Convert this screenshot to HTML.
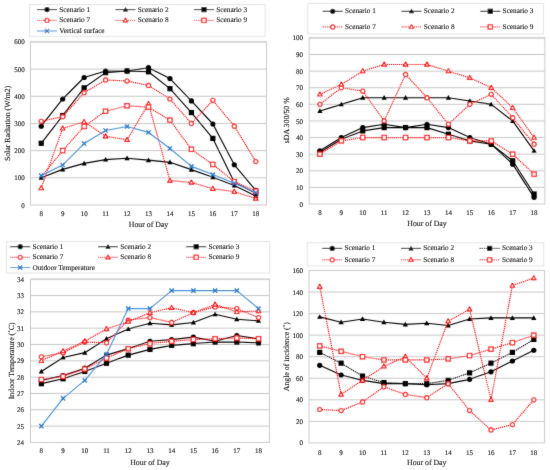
<!DOCTYPE html>
<html><head><meta charset="utf-8"><title>Charts</title>
<style>
html,body{margin:0;padding:0;background:#fff;}
body{width:550px;height:470px;overflow:hidden;}
svg{display:block;font-family:"Liberation Serif", serif;text-rendering:geometricPrecision;}
#w{width:550px;height:470px;}
</style></head>
<body>
<div id="w">
<svg width="550" height="470" viewBox="0 0 550 470">
<defs><filter id="bl" x="0" y="0" width="550" height="470" filterUnits="userSpaceOnUse"><feConvolveMatrix order="3" kernelMatrix="1 2 1 2 24 2 1 2 1" divisor="36" edgeMode="duplicate"/></filter><filter id="tf" x="0" y="0" width="550" height="470" filterUnits="userSpaceOnUse"><feConvolveMatrix order="3" kernelMatrix="0 1 0 1 16 1 0 1 0" divisor="20" edgeMode="duplicate"/></filter></defs>
<rect width="550" height="470" fill="#fff"/>
<g filter="url(#bl)">
<line x1="30.5" y1="177.82" x2="266.5" y2="177.82" stroke="#c8c8c8" stroke-width="1"/>
<line x1="30.5" y1="150.63" x2="266.5" y2="150.63" stroke="#c8c8c8" stroke-width="1"/>
<line x1="30.5" y1="123.45" x2="266.5" y2="123.45" stroke="#c8c8c8" stroke-width="1"/>
<line x1="30.5" y1="96.27" x2="266.5" y2="96.27" stroke="#c8c8c8" stroke-width="1"/>
<line x1="30.5" y1="69.08" x2="266.5" y2="69.08" stroke="#c8c8c8" stroke-width="1"/>
<line x1="30.5" y1="41.9" x2="266.5" y2="41.9" stroke="#c8c8c8" stroke-width="1"/>
<rect x="30.5" y="41.9" width="236" height="163.1" fill="none" stroke="#cbcbcb" stroke-width="1"/>
<polyline points="41.23,126.17 62.68,98.98 84.14,77.51 105.59,70.99 127.05,70.99 148.5,67.72 169.95,78.6 191.41,100.89 212.86,123.99 234.32,164.77 255.77,190.32" fill="none" stroke="#000000" stroke-width="1.15" stroke-linejoin="round"/>
<circle cx="41.23" cy="126.17" r="2.6" fill="#000000"/>
<circle cx="62.68" cy="98.98" r="2.6" fill="#000000"/>
<circle cx="84.14" cy="77.51" r="2.6" fill="#000000"/>
<circle cx="105.59" cy="70.99" r="2.6" fill="#000000"/>
<circle cx="127.05" cy="70.99" r="2.6" fill="#000000"/>
<circle cx="148.5" cy="67.72" r="2.6" fill="#000000"/>
<circle cx="169.95" cy="78.6" r="2.6" fill="#000000"/>
<circle cx="191.41" cy="100.89" r="2.6" fill="#000000"/>
<circle cx="212.86" cy="123.99" r="2.6" fill="#000000"/>
<circle cx="234.32" cy="164.77" r="2.6" fill="#000000"/>
<circle cx="255.77" cy="190.32" r="2.6" fill="#000000"/>
<polyline points="41.23,177.82 62.68,169.39 84.14,163.41 105.59,159.6 127.05,158.24 148.5,160.15 169.95,162.32 191.41,169.66 212.86,177.27 234.32,185.43 255.77,196.03" fill="none" stroke="#000000" stroke-width="1.15" stroke-linejoin="round"/>
<path d="M41.23 175.12L43.83 179.82L38.63 179.82Z" fill="#000000"/>
<path d="M62.68 166.69L65.28 171.39L60.08 171.39Z" fill="#000000"/>
<path d="M84.14 160.71L86.74 165.41L81.54 165.41Z" fill="#000000"/>
<path d="M105.59 156.9L108.19 161.6L102.99 161.6Z" fill="#000000"/>
<path d="M127.05 155.54L129.65 160.24L124.45 160.24Z" fill="#000000"/>
<path d="M148.5 157.45L151.1 162.15L145.9 162.15Z" fill="#000000"/>
<path d="M169.95 159.62L172.55 164.32L167.35 164.32Z" fill="#000000"/>
<path d="M191.41 166.96L194.01 171.66L188.81 171.66Z" fill="#000000"/>
<path d="M212.86 174.57L215.46 179.27L210.26 179.27Z" fill="#000000"/>
<path d="M234.32 182.73L236.92 187.43L231.72 187.43Z" fill="#000000"/>
<path d="M255.77 193.33L258.37 198.03L253.17 198.03Z" fill="#000000"/>
<polyline points="41.23,143.29 62.68,115.57 84.14,87.84 105.59,72.62 127.05,70.99 148.5,71.8 169.95,88.66 191.41,112.58 212.86,138.4 234.32,182.17 255.77,193.31" fill="none" stroke="#000000" stroke-width="1.15" stroke-linejoin="round"/>
<rect x="38.63" y="140.69" width="5.2" height="5.2" fill="#000000"/>
<rect x="60.08" y="112.97" width="5.2" height="5.2" fill="#000000"/>
<rect x="81.54" y="85.24" width="5.2" height="5.2" fill="#000000"/>
<rect x="102.99" y="70.02" width="5.2" height="5.2" fill="#000000"/>
<rect x="124.45" y="68.39" width="5.2" height="5.2" fill="#000000"/>
<rect x="145.9" y="69.2" width="5.2" height="5.2" fill="#000000"/>
<rect x="167.35" y="86.06" width="5.2" height="5.2" fill="#000000"/>
<rect x="188.81" y="109.98" width="5.2" height="5.2" fill="#000000"/>
<rect x="210.26" y="135.8" width="5.2" height="5.2" fill="#000000"/>
<rect x="231.72" y="179.57" width="5.2" height="5.2" fill="#000000"/>
<rect x="253.17" y="190.71" width="5.2" height="5.2" fill="#000000"/>
<polyline points="41.23,121.28 62.68,116.65 84.14,92.73 105.59,79.96 127.05,81.04 148.5,85.39 169.95,98.98 191.41,123.45 212.86,100.34 234.32,126.17 255.77,161.51" fill="none" stroke="#ff0000" stroke-width="1.15" stroke-dasharray="1.2 0.85" stroke-linejoin="round"/>
<circle cx="41.23" cy="121.28" r="2.05" fill="#fff" stroke="#ff0000" stroke-width="1.1"/>
<circle cx="62.68" cy="116.65" r="2.05" fill="#fff" stroke="#ff0000" stroke-width="1.1"/>
<circle cx="84.14" cy="92.73" r="2.05" fill="#fff" stroke="#ff0000" stroke-width="1.1"/>
<circle cx="105.59" cy="79.96" r="2.05" fill="#fff" stroke="#ff0000" stroke-width="1.1"/>
<circle cx="127.05" cy="81.04" r="2.05" fill="#fff" stroke="#ff0000" stroke-width="1.1"/>
<circle cx="148.5" cy="85.39" r="2.05" fill="#fff" stroke="#ff0000" stroke-width="1.1"/>
<circle cx="169.95" cy="98.98" r="2.05" fill="#fff" stroke="#ff0000" stroke-width="1.1"/>
<circle cx="191.41" cy="123.45" r="2.05" fill="#fff" stroke="#ff0000" stroke-width="1.1"/>
<circle cx="212.86" cy="100.34" r="2.05" fill="#fff" stroke="#ff0000" stroke-width="1.1"/>
<circle cx="234.32" cy="126.17" r="2.05" fill="#fff" stroke="#ff0000" stroke-width="1.1"/>
<circle cx="255.77" cy="161.51" r="2.05" fill="#fff" stroke="#ff0000" stroke-width="1.1"/>
<polyline points="41.23,188.15 62.68,128.34 84.14,121.82 105.59,136.23 127.05,139.76 148.5,103.88 169.95,180.53 191.41,182.44 212.86,188.69 234.32,191.68 255.77,198.48" fill="none" stroke="#ff0000" stroke-width="1.15" stroke-dasharray="1.2 0.85" stroke-linejoin="round"/>
<path d="M41.23 185.8L43.46 189.79L38.99 189.79Z" fill="#fff" stroke="#ff0000" stroke-width="1.15" stroke-linejoin="round"/>
<path d="M62.68 125.99L64.91 129.99L60.45 129.99Z" fill="#fff" stroke="#ff0000" stroke-width="1.15" stroke-linejoin="round"/>
<path d="M84.14 119.47L86.37 123.46L81.9 123.46Z" fill="#fff" stroke="#ff0000" stroke-width="1.15" stroke-linejoin="round"/>
<path d="M105.59 133.88L107.82 137.87L103.36 137.87Z" fill="#fff" stroke="#ff0000" stroke-width="1.15" stroke-linejoin="round"/>
<path d="M127.05 137.41L129.28 141.41L124.81 141.41Z" fill="#fff" stroke="#ff0000" stroke-width="1.15" stroke-linejoin="round"/>
<path d="M148.5 101.53L150.73 105.52L146.27 105.52Z" fill="#fff" stroke="#ff0000" stroke-width="1.15" stroke-linejoin="round"/>
<path d="M169.95 178.19L172.19 182.18L167.72 182.18Z" fill="#fff" stroke="#ff0000" stroke-width="1.15" stroke-linejoin="round"/>
<path d="M191.41 180.09L193.64 184.08L189.18 184.08Z" fill="#fff" stroke="#ff0000" stroke-width="1.15" stroke-linejoin="round"/>
<path d="M212.86 186.34L215.1 190.34L210.63 190.34Z" fill="#fff" stroke="#ff0000" stroke-width="1.15" stroke-linejoin="round"/>
<path d="M234.32 189.33L236.55 193.33L232.09 193.33Z" fill="#fff" stroke="#ff0000" stroke-width="1.15" stroke-linejoin="round"/>
<path d="M255.77 196.13L258.01 200.12L253.54 200.12Z" fill="#fff" stroke="#ff0000" stroke-width="1.15" stroke-linejoin="round"/>
<polyline points="41.23,176.73 62.68,150.63 84.14,126.44 105.59,111.22 127.05,105.78 148.5,107.14 169.95,120.19 191.41,149.27 212.86,164.5 234.32,181.62 255.77,191.14" fill="none" stroke="#ff0000" stroke-width="1.15" stroke-dasharray="1.2 0.85" stroke-linejoin="round"/>
<rect x="60.53" y="148.48" width="4.3" height="4.3" fill="#fff" stroke="#ff0000" stroke-width="1.15"/>
<rect x="81.99" y="124.29" width="4.3" height="4.3" fill="#fff" stroke="#ff0000" stroke-width="1.15"/>
<rect x="103.44" y="109.07" width="4.3" height="4.3" fill="#fff" stroke="#ff0000" stroke-width="1.15"/>
<rect x="124.9" y="103.63" width="4.3" height="4.3" fill="#fff" stroke="#ff0000" stroke-width="1.15"/>
<rect x="146.35" y="104.99" width="4.3" height="4.3" fill="#fff" stroke="#ff0000" stroke-width="1.15"/>
<rect x="167.8" y="118.04" width="4.3" height="4.3" fill="#fff" stroke="#ff0000" stroke-width="1.15"/>
<rect x="189.26" y="147.12" width="4.3" height="4.3" fill="#fff" stroke="#ff0000" stroke-width="1.15"/>
<rect x="210.71" y="162.35" width="4.3" height="4.3" fill="#fff" stroke="#ff0000" stroke-width="1.15"/>
<rect x="232.17" y="179.47" width="4.3" height="4.3" fill="#fff" stroke="#ff0000" stroke-width="1.15"/>
<rect x="253.62" y="188.99" width="4.3" height="4.3" fill="#fff" stroke="#ff0000" stroke-width="1.15"/>
<polyline points="41.23,175.64 62.68,165.04 84.14,143.57 105.59,130.52 127.05,126.44 148.5,132.42 169.95,148.46 191.41,166.4 212.86,174.55 234.32,183.25 255.77,192.5" fill="none" stroke="#4a92da" stroke-width="1.15" stroke-linejoin="round"/>
<path d="M39.13 173.54L43.33 177.74M39.13 177.74L43.33 173.54" stroke="#2a78cc" stroke-width="1.25" fill="none"/>
<path d="M60.58 162.94L64.78 167.14M60.58 167.14L64.78 162.94" stroke="#2a78cc" stroke-width="1.25" fill="none"/>
<path d="M82.04 141.47L86.24 145.67M82.04 145.67L86.24 141.47" stroke="#2a78cc" stroke-width="1.25" fill="none"/>
<path d="M103.49 128.42L107.69 132.62M103.49 132.62L107.69 128.42" stroke="#2a78cc" stroke-width="1.25" fill="none"/>
<path d="M124.95 124.34L129.15 128.54M124.95 128.54L129.15 124.34" stroke="#2a78cc" stroke-width="1.25" fill="none"/>
<path d="M146.4 130.32L150.6 134.52M146.4 134.52L150.6 130.32" stroke="#2a78cc" stroke-width="1.25" fill="none"/>
<path d="M167.85 146.36L172.05 150.56M167.85 150.56L172.05 146.36" stroke="#2a78cc" stroke-width="1.25" fill="none"/>
<path d="M189.31 164.3L193.51 168.5M189.31 168.5L193.51 164.3" stroke="#2a78cc" stroke-width="1.25" fill="none"/>
<path d="M210.76 172.45L214.96 176.65M210.76 176.65L214.96 172.45" stroke="#2a78cc" stroke-width="1.25" fill="none"/>
<path d="M232.22 181.15L236.42 185.35M232.22 185.35L236.42 181.15" stroke="#2a78cc" stroke-width="1.25" fill="none"/>
<path d="M253.67 190.4L257.87 194.6M253.67 194.6L257.87 190.4" stroke="#2a78cc" stroke-width="1.25" fill="none"/>
<rect x="29.4" y="4.5" width="235.7" height="31.8" fill="#fff" stroke="#e4e4e4" stroke-width="1"/>
<line x1="37" y1="9.6" x2="57" y2="9.6" stroke="#000000" stroke-width="0.98"/>
<circle cx="47" cy="9.6" r="2.6" fill="#000000"/>
<line x1="115.5" y1="9.6" x2="135.5" y2="9.6" stroke="#000000" stroke-width="0.98"/>
<path d="M125.5 6.9L128.1 11.6L122.9 11.6Z" fill="#000000"/>
<line x1="194" y1="9.6" x2="214" y2="9.6" stroke="#000000" stroke-width="0.98"/>
<rect x="201.4" y="7" width="5.2" height="5.2" fill="#000000"/>
<line x1="37" y1="20.4" x2="57" y2="20.4" stroke="#ff0000" stroke-width="0.98" stroke-dasharray="1.2 0.85"/>
<circle cx="47" cy="20.4" r="2.05" fill="#fff" stroke="#ff0000" stroke-width="1.1"/>
<line x1="115.5" y1="20.4" x2="135.5" y2="20.4" stroke="#ff0000" stroke-width="0.98" stroke-dasharray="1.2 0.85"/>
<path d="M125.5 18.05L127.73 22.04L123.27 22.04Z" fill="#fff" stroke="#ff0000" stroke-width="1.15" stroke-linejoin="round"/>
<line x1="194" y1="20.4" x2="214" y2="20.4" stroke="#ff0000" stroke-width="0.98" stroke-dasharray="1.2 0.85"/>
<rect x="201.85" y="18.25" width="4.3" height="4.3" fill="#fff" stroke="#ff0000" stroke-width="1.15"/>
<line x1="37" y1="31" x2="57" y2="31" stroke="#4a92da" stroke-width="0.98"/>
<path d="M44.9 28.9L49.1 33.1M44.9 33.1L49.1 28.9" stroke="#2a78cc" stroke-width="1.25" fill="none"/>
<line x1="309.2" y1="187.39" x2="544.8" y2="187.39" stroke="#c8c8c8" stroke-width="1"/>
<line x1="309.2" y1="170.78" x2="544.8" y2="170.78" stroke="#c8c8c8" stroke-width="1"/>
<line x1="309.2" y1="154.17" x2="544.8" y2="154.17" stroke="#c8c8c8" stroke-width="1"/>
<line x1="309.2" y1="137.56" x2="544.8" y2="137.56" stroke="#c8c8c8" stroke-width="1"/>
<line x1="309.2" y1="120.95" x2="544.8" y2="120.95" stroke="#c8c8c8" stroke-width="1"/>
<line x1="309.2" y1="104.34" x2="544.8" y2="104.34" stroke="#c8c8c8" stroke-width="1"/>
<line x1="309.2" y1="87.73" x2="544.8" y2="87.73" stroke="#c8c8c8" stroke-width="1"/>
<line x1="309.2" y1="71.12" x2="544.8" y2="71.12" stroke="#c8c8c8" stroke-width="1"/>
<line x1="309.2" y1="54.51" x2="544.8" y2="54.51" stroke="#c8c8c8" stroke-width="1"/>
<line x1="309.2" y1="37.9" x2="544.8" y2="37.9" stroke="#c8c8c8" stroke-width="1"/>
<rect x="309.2" y="37.9" width="235.6" height="166.1" fill="none" stroke="#cbcbcb" stroke-width="1"/>
<polyline points="319.91,150.85 341.33,137.56 362.75,127.59 384.16,124.27 405.58,127.59 427,124.27 448.42,127.59 469.84,137.56 491.25,144.2 512.67,164.14 534.09,197.36" fill="none" stroke="#000000" stroke-width="1.15" stroke-linejoin="round"/>
<circle cx="319.91" cy="150.85" r="2.6" fill="#000000"/>
<circle cx="341.33" cy="137.56" r="2.6" fill="#000000"/>
<circle cx="362.75" cy="127.59" r="2.6" fill="#000000"/>
<circle cx="384.16" cy="124.27" r="2.6" fill="#000000"/>
<circle cx="405.58" cy="127.59" r="2.6" fill="#000000"/>
<circle cx="427" cy="124.27" r="2.6" fill="#000000"/>
<circle cx="448.42" cy="127.59" r="2.6" fill="#000000"/>
<circle cx="469.84" cy="137.56" r="2.6" fill="#000000"/>
<circle cx="491.25" cy="144.2" r="2.6" fill="#000000"/>
<circle cx="512.67" cy="164.14" r="2.6" fill="#000000"/>
<circle cx="534.09" cy="197.36" r="2.6" fill="#000000"/>
<polyline points="319.91,110.98 341.33,104.34 362.75,97.7 384.16,97.7 405.58,97.7 427,97.7 448.42,97.7 469.84,101.02 491.25,104.34 512.67,120.95 534.09,150.85" fill="none" stroke="#000000" stroke-width="1.15" stroke-linejoin="round"/>
<path d="M319.91 108.28L322.51 112.98L317.31 112.98Z" fill="#000000"/>
<path d="M341.33 101.64L343.93 106.34L338.73 106.34Z" fill="#000000"/>
<path d="M362.75 95L365.35 99.7L360.15 99.7Z" fill="#000000"/>
<path d="M384.16 95L386.76 99.7L381.56 99.7Z" fill="#000000"/>
<path d="M405.58 95L408.18 99.7L402.98 99.7Z" fill="#000000"/>
<path d="M427 95L429.6 99.7L424.4 99.7Z" fill="#000000"/>
<path d="M448.42 95L451.02 99.7L445.82 99.7Z" fill="#000000"/>
<path d="M469.84 98.32L472.44 103.02L467.24 103.02Z" fill="#000000"/>
<path d="M491.25 101.64L493.85 106.34L488.65 106.34Z" fill="#000000"/>
<path d="M512.67 118.25L515.27 122.95L510.07 122.95Z" fill="#000000"/>
<path d="M534.09 148.15L536.69 152.85L531.49 152.85Z" fill="#000000"/>
<polyline points="319.91,152.51 341.33,139.22 362.75,130.92 384.16,127.59 405.58,127.59 427,127.59 448.42,134.24 469.84,140.88 491.25,144.2 512.67,160.81 534.09,194.03" fill="none" stroke="#000000" stroke-width="1.15" stroke-linejoin="round"/>
<rect x="317.31" y="149.91" width="5.2" height="5.2" fill="#000000"/>
<rect x="338.73" y="136.62" width="5.2" height="5.2" fill="#000000"/>
<rect x="360.15" y="128.32" width="5.2" height="5.2" fill="#000000"/>
<rect x="381.56" y="124.99" width="5.2" height="5.2" fill="#000000"/>
<rect x="402.98" y="124.99" width="5.2" height="5.2" fill="#000000"/>
<rect x="424.4" y="124.99" width="5.2" height="5.2" fill="#000000"/>
<rect x="445.82" y="131.64" width="5.2" height="5.2" fill="#000000"/>
<rect x="467.24" y="138.28" width="5.2" height="5.2" fill="#000000"/>
<rect x="488.65" y="141.6" width="5.2" height="5.2" fill="#000000"/>
<rect x="510.07" y="158.21" width="5.2" height="5.2" fill="#000000"/>
<rect x="531.49" y="191.43" width="5.2" height="5.2" fill="#000000"/>
<polyline points="319.91,104.34 341.33,87.73 362.75,91.05 384.16,120.95 405.58,74.44 427,97.7 448.42,124.27 469.84,104.34 491.25,94.37 512.67,117.63 534.09,144.2" fill="none" stroke="#ff0000" stroke-width="1.15" stroke-dasharray="1.2 0.85" stroke-linejoin="round"/>
<circle cx="319.91" cy="104.34" r="2.05" fill="#fff" stroke="#ff0000" stroke-width="1.1"/>
<circle cx="341.33" cy="87.73" r="2.05" fill="#fff" stroke="#ff0000" stroke-width="1.1"/>
<circle cx="362.75" cy="91.05" r="2.05" fill="#fff" stroke="#ff0000" stroke-width="1.1"/>
<circle cx="384.16" cy="120.95" r="2.05" fill="#fff" stroke="#ff0000" stroke-width="1.1"/>
<circle cx="405.58" cy="74.44" r="2.05" fill="#fff" stroke="#ff0000" stroke-width="1.1"/>
<circle cx="427" cy="97.7" r="2.05" fill="#fff" stroke="#ff0000" stroke-width="1.1"/>
<circle cx="448.42" cy="124.27" r="2.05" fill="#fff" stroke="#ff0000" stroke-width="1.1"/>
<circle cx="469.84" cy="104.34" r="2.05" fill="#fff" stroke="#ff0000" stroke-width="1.1"/>
<circle cx="491.25" cy="94.37" r="2.05" fill="#fff" stroke="#ff0000" stroke-width="1.1"/>
<circle cx="512.67" cy="117.63" r="2.05" fill="#fff" stroke="#ff0000" stroke-width="1.1"/>
<circle cx="534.09" cy="144.2" r="2.05" fill="#fff" stroke="#ff0000" stroke-width="1.1"/>
<polyline points="319.91,94.37 341.33,84.41 362.75,71.12 384.16,64.48 405.58,64.48 427,64.48 448.42,71.12 469.84,77.76 491.25,87.73 512.67,107.66 534.09,137.56" fill="none" stroke="#ff0000" stroke-width="1.15" stroke-dasharray="1.2 0.85" stroke-linejoin="round"/>
<path d="M319.91 92.02L322.14 96.02L317.68 96.02Z" fill="#fff" stroke="#ff0000" stroke-width="1.15" stroke-linejoin="round"/>
<path d="M341.33 82.06L343.56 86.05L339.09 86.05Z" fill="#fff" stroke="#ff0000" stroke-width="1.15" stroke-linejoin="round"/>
<path d="M362.75 68.77L364.98 72.77L360.51 72.77Z" fill="#fff" stroke="#ff0000" stroke-width="1.15" stroke-linejoin="round"/>
<path d="M384.16 62.13L386.4 66.12L381.93 66.12Z" fill="#fff" stroke="#ff0000" stroke-width="1.15" stroke-linejoin="round"/>
<path d="M405.58 62.13L407.81 66.12L403.35 66.12Z" fill="#fff" stroke="#ff0000" stroke-width="1.15" stroke-linejoin="round"/>
<path d="M427 62.13L429.23 66.12L424.77 66.12Z" fill="#fff" stroke="#ff0000" stroke-width="1.15" stroke-linejoin="round"/>
<path d="M448.42 68.77L450.65 72.77L446.19 72.77Z" fill="#fff" stroke="#ff0000" stroke-width="1.15" stroke-linejoin="round"/>
<path d="M469.84 75.41L472.07 79.41L467.6 79.41Z" fill="#fff" stroke="#ff0000" stroke-width="1.15" stroke-linejoin="round"/>
<path d="M491.25 85.38L493.49 89.38L489.02 89.38Z" fill="#fff" stroke="#ff0000" stroke-width="1.15" stroke-linejoin="round"/>
<path d="M512.67 105.31L514.91 109.31L510.44 109.31Z" fill="#fff" stroke="#ff0000" stroke-width="1.15" stroke-linejoin="round"/>
<path d="M534.09 135.21L536.32 139.21L531.86 139.21Z" fill="#fff" stroke="#ff0000" stroke-width="1.15" stroke-linejoin="round"/>
<polyline points="319.91,154.17 341.33,140.88 362.75,137.56 384.16,137.56 405.58,137.56 427,137.56 448.42,137.56 469.84,140.88 491.25,140.88 512.67,154.17 534.09,174.1" fill="none" stroke="#ff0000" stroke-width="1.15" stroke-dasharray="1.2 0.85" stroke-linejoin="round"/>
<rect x="317.76" y="152.02" width="4.3" height="4.3" fill="#fff" stroke="#ff0000" stroke-width="1.15"/>
<rect x="339.18" y="138.73" width="4.3" height="4.3" fill="#fff" stroke="#ff0000" stroke-width="1.15"/>
<rect x="360.6" y="135.41" width="4.3" height="4.3" fill="#fff" stroke="#ff0000" stroke-width="1.15"/>
<rect x="382.01" y="135.41" width="4.3" height="4.3" fill="#fff" stroke="#ff0000" stroke-width="1.15"/>
<rect x="403.43" y="135.41" width="4.3" height="4.3" fill="#fff" stroke="#ff0000" stroke-width="1.15"/>
<rect x="424.85" y="135.41" width="4.3" height="4.3" fill="#fff" stroke="#ff0000" stroke-width="1.15"/>
<rect x="446.27" y="135.41" width="4.3" height="4.3" fill="#fff" stroke="#ff0000" stroke-width="1.15"/>
<rect x="467.69" y="138.73" width="4.3" height="4.3" fill="#fff" stroke="#ff0000" stroke-width="1.15"/>
<rect x="489.1" y="138.73" width="4.3" height="4.3" fill="#fff" stroke="#ff0000" stroke-width="1.15"/>
<rect x="510.52" y="152.02" width="4.3" height="4.3" fill="#fff" stroke="#ff0000" stroke-width="1.15"/>
<rect x="531.94" y="171.95" width="4.3" height="4.3" fill="#fff" stroke="#ff0000" stroke-width="1.15"/>
<rect x="307.8" y="3.6" width="235.6" height="30.4" fill="#fff" stroke="#e4e4e4" stroke-width="1"/>
<line x1="322.7" y1="11.3" x2="342.7" y2="11.3" stroke="#000000" stroke-width="0.98"/>
<circle cx="332.7" cy="11.3" r="2.6" fill="#000000"/>
<line x1="401.5" y1="11.3" x2="421.5" y2="11.3" stroke="#000000" stroke-width="0.98"/>
<path d="M411.5 8.6L414.1 13.3L408.9 13.3Z" fill="#000000"/>
<line x1="480.3" y1="11.3" x2="500.3" y2="11.3" stroke="#000000" stroke-width="0.98"/>
<rect x="487.7" y="8.7" width="5.2" height="5.2" fill="#000000"/>
<line x1="322.7" y1="26.9" x2="342.7" y2="26.9" stroke="#ff0000" stroke-width="0.98" stroke-dasharray="1.2 0.85"/>
<circle cx="332.7" cy="26.9" r="2.05" fill="#fff" stroke="#ff0000" stroke-width="1.1"/>
<line x1="401.5" y1="26.9" x2="421.5" y2="26.9" stroke="#ff0000" stroke-width="0.98" stroke-dasharray="1.2 0.85"/>
<path d="M411.5 24.55L413.73 28.54L409.27 28.54Z" fill="#fff" stroke="#ff0000" stroke-width="1.15" stroke-linejoin="round"/>
<line x1="480.3" y1="26.9" x2="500.3" y2="26.9" stroke="#ff0000" stroke-width="0.98" stroke-dasharray="1.2 0.85"/>
<rect x="488.15" y="24.75" width="4.3" height="4.3" fill="#fff" stroke="#ff0000" stroke-width="1.15"/>
<line x1="30.5" y1="426.12" x2="269.4" y2="426.12" stroke="#c8c8c8" stroke-width="1"/>
<line x1="30.5" y1="409.8" x2="269.4" y2="409.8" stroke="#c8c8c8" stroke-width="1"/>
<line x1="30.5" y1="393.47" x2="269.4" y2="393.47" stroke="#c8c8c8" stroke-width="1"/>
<line x1="30.5" y1="377.15" x2="269.4" y2="377.15" stroke="#c8c8c8" stroke-width="1"/>
<line x1="30.5" y1="360.82" x2="269.4" y2="360.82" stroke="#c8c8c8" stroke-width="1"/>
<line x1="30.5" y1="344.5" x2="269.4" y2="344.5" stroke="#c8c8c8" stroke-width="1"/>
<line x1="30.5" y1="328.18" x2="269.4" y2="328.18" stroke="#c8c8c8" stroke-width="1"/>
<line x1="30.5" y1="311.85" x2="269.4" y2="311.85" stroke="#c8c8c8" stroke-width="1"/>
<line x1="30.5" y1="295.52" x2="269.4" y2="295.52" stroke="#c8c8c8" stroke-width="1"/>
<line x1="30.5" y1="279.2" x2="269.4" y2="279.2" stroke="#c8c8c8" stroke-width="1"/>
<rect x="30.5" y="279.2" width="238.9" height="163.25" fill="none" stroke="#cbcbcb" stroke-width="1"/>
<polyline points="41.36,380.41 63.08,375.52 84.8,368.17 106.51,355.11 128.23,348.58 149.95,341.24 171.67,339.6 193.39,337.15 215.1,341.24 236.82,335.52 258.54,338.79" fill="none" stroke="#000000" stroke-width="1.15" stroke-linejoin="round"/>
<circle cx="41.36" cy="380.41" r="2.6" fill="#000000"/>
<circle cx="63.08" cy="375.52" r="2.6" fill="#000000"/>
<circle cx="84.8" cy="368.17" r="2.6" fill="#000000"/>
<circle cx="106.51" cy="355.11" r="2.6" fill="#000000"/>
<circle cx="128.23" cy="348.58" r="2.6" fill="#000000"/>
<circle cx="149.95" cy="341.24" r="2.6" fill="#000000"/>
<circle cx="171.67" cy="339.6" r="2.6" fill="#000000"/>
<circle cx="193.39" cy="337.15" r="2.6" fill="#000000"/>
<circle cx="215.1" cy="341.24" r="2.6" fill="#000000"/>
<circle cx="236.82" cy="335.52" r="2.6" fill="#000000"/>
<circle cx="258.54" cy="338.79" r="2.6" fill="#000000"/>
<polyline points="41.36,371.44 63.08,357.56 84.8,352.66 106.51,338.79 128.23,328.99 149.95,323.28 171.67,324.91 193.39,322.46 215.1,314.3 236.82,319.2 258.54,320.83" fill="none" stroke="#000000" stroke-width="1.15" stroke-linejoin="round"/>
<path d="M41.36 368.74L43.96 373.44L38.76 373.44Z" fill="#000000"/>
<path d="M63.08 354.86L65.68 359.56L60.48 359.56Z" fill="#000000"/>
<path d="M84.8 349.96L87.4 354.66L82.2 354.66Z" fill="#000000"/>
<path d="M106.51 336.09L109.11 340.79L103.91 340.79Z" fill="#000000"/>
<path d="M128.23 326.29L130.83 330.99L125.63 330.99Z" fill="#000000"/>
<path d="M149.95 320.58L152.55 325.28L147.35 325.28Z" fill="#000000"/>
<path d="M171.67 322.21L174.27 326.91L169.07 326.91Z" fill="#000000"/>
<path d="M193.39 319.76L195.99 324.46L190.79 324.46Z" fill="#000000"/>
<path d="M215.1 311.6L217.7 316.3L212.5 316.3Z" fill="#000000"/>
<path d="M236.82 316.5L239.42 321.2L234.22 321.2Z" fill="#000000"/>
<path d="M258.54 318.13L261.14 322.83L255.94 322.83Z" fill="#000000"/>
<polyline points="41.36,383.68 63.08,378.78 84.8,371.44 106.51,363.27 128.23,355.11 149.95,349.4 171.67,345.32 193.39,343.68 215.1,342.05 236.82,342.05 258.54,342.87" fill="none" stroke="#000000" stroke-width="1.15" stroke-linejoin="round"/>
<rect x="38.76" y="381.08" width="5.2" height="5.2" fill="#000000"/>
<rect x="60.48" y="376.18" width="5.2" height="5.2" fill="#000000"/>
<rect x="82.2" y="368.84" width="5.2" height="5.2" fill="#000000"/>
<rect x="103.91" y="360.67" width="5.2" height="5.2" fill="#000000"/>
<rect x="125.63" y="352.51" width="5.2" height="5.2" fill="#000000"/>
<rect x="147.35" y="346.8" width="5.2" height="5.2" fill="#000000"/>
<rect x="169.07" y="342.72" width="5.2" height="5.2" fill="#000000"/>
<rect x="190.79" y="341.08" width="5.2" height="5.2" fill="#000000"/>
<rect x="212.5" y="339.45" width="5.2" height="5.2" fill="#000000"/>
<rect x="234.22" y="339.45" width="5.2" height="5.2" fill="#000000"/>
<rect x="255.94" y="340.27" width="5.2" height="5.2" fill="#000000"/>
<polyline points="41.36,356.74 63.08,352.66 84.8,342.05 106.51,342.87 128.23,320.01 149.95,317.56 171.67,322.46 193.39,312.67 215.1,306.95 236.82,308.58 258.54,317.56" fill="none" stroke="#ff0000" stroke-width="1.15" stroke-dasharray="1.2 0.85" stroke-linejoin="round"/>
<circle cx="41.36" cy="356.74" r="2.05" fill="#fff" stroke="#ff0000" stroke-width="1.1"/>
<circle cx="63.08" cy="352.66" r="2.05" fill="#fff" stroke="#ff0000" stroke-width="1.1"/>
<circle cx="84.8" cy="342.05" r="2.05" fill="#fff" stroke="#ff0000" stroke-width="1.1"/>
<circle cx="106.51" cy="342.87" r="2.05" fill="#fff" stroke="#ff0000" stroke-width="1.1"/>
<circle cx="128.23" cy="320.01" r="2.05" fill="#fff" stroke="#ff0000" stroke-width="1.1"/>
<circle cx="149.95" cy="317.56" r="2.05" fill="#fff" stroke="#ff0000" stroke-width="1.1"/>
<circle cx="171.67" cy="322.46" r="2.05" fill="#fff" stroke="#ff0000" stroke-width="1.1"/>
<circle cx="193.39" cy="312.67" r="2.05" fill="#fff" stroke="#ff0000" stroke-width="1.1"/>
<circle cx="215.1" cy="306.95" r="2.05" fill="#fff" stroke="#ff0000" stroke-width="1.1"/>
<circle cx="236.82" cy="308.58" r="2.05" fill="#fff" stroke="#ff0000" stroke-width="1.1"/>
<circle cx="258.54" cy="317.56" r="2.05" fill="#fff" stroke="#ff0000" stroke-width="1.1"/>
<polyline points="41.36,360.82 63.08,351.03 84.8,341.24 106.51,328.99 128.23,321.64 149.95,312.67 171.67,307.77 193.39,312.67 215.1,304.5 236.82,311.85 258.54,311.03" fill="none" stroke="#ff0000" stroke-width="1.15" stroke-dasharray="1.2 0.85" stroke-linejoin="round"/>
<path d="M41.36 358.47L43.59 362.47L39.13 362.47Z" fill="#fff" stroke="#ff0000" stroke-width="1.15" stroke-linejoin="round"/>
<path d="M63.08 348.68L65.31 352.67L60.84 352.67Z" fill="#fff" stroke="#ff0000" stroke-width="1.15" stroke-linejoin="round"/>
<path d="M84.8 338.88L87.03 342.88L82.56 342.88Z" fill="#fff" stroke="#ff0000" stroke-width="1.15" stroke-linejoin="round"/>
<path d="M106.51 326.64L108.75 330.64L104.28 330.64Z" fill="#fff" stroke="#ff0000" stroke-width="1.15" stroke-linejoin="round"/>
<path d="M128.23 319.29L130.46 323.29L126 323.29Z" fill="#fff" stroke="#ff0000" stroke-width="1.15" stroke-linejoin="round"/>
<path d="M149.95 310.32L152.18 314.31L147.72 314.31Z" fill="#fff" stroke="#ff0000" stroke-width="1.15" stroke-linejoin="round"/>
<path d="M171.67 305.42L173.9 309.41L169.44 309.41Z" fill="#fff" stroke="#ff0000" stroke-width="1.15" stroke-linejoin="round"/>
<path d="M193.39 310.32L195.62 314.31L191.15 314.31Z" fill="#fff" stroke="#ff0000" stroke-width="1.15" stroke-linejoin="round"/>
<path d="M215.1 302.15L217.34 306.15L212.87 306.15Z" fill="#fff" stroke="#ff0000" stroke-width="1.15" stroke-linejoin="round"/>
<path d="M236.82 309.5L239.06 313.5L234.59 313.5Z" fill="#fff" stroke="#ff0000" stroke-width="1.15" stroke-linejoin="round"/>
<path d="M258.54 308.68L260.77 312.68L256.31 312.68Z" fill="#fff" stroke="#ff0000" stroke-width="1.15" stroke-linejoin="round"/>
<polyline points="41.36,379.6 63.08,376.33 84.8,368.99 106.51,358.05 128.23,348.74 149.95,343.68 171.67,341.24 193.39,339.6 215.1,338.79 236.82,337.97 258.54,338.79" fill="none" stroke="#ff0000" stroke-width="1.15" stroke-dasharray="1.2 0.85" stroke-linejoin="round"/>
<rect x="39.21" y="377.45" width="4.3" height="4.3" fill="#fff" stroke="#ff0000" stroke-width="1.15"/>
<rect x="60.93" y="374.18" width="4.3" height="4.3" fill="#fff" stroke="#ff0000" stroke-width="1.15"/>
<rect x="82.65" y="366.84" width="4.3" height="4.3" fill="#fff" stroke="#ff0000" stroke-width="1.15"/>
<rect x="104.36" y="355.9" width="4.3" height="4.3" fill="#fff" stroke="#ff0000" stroke-width="1.15"/>
<rect x="126.08" y="346.59" width="4.3" height="4.3" fill="#fff" stroke="#ff0000" stroke-width="1.15"/>
<rect x="147.8" y="341.53" width="4.3" height="4.3" fill="#fff" stroke="#ff0000" stroke-width="1.15"/>
<rect x="169.52" y="339.09" width="4.3" height="4.3" fill="#fff" stroke="#ff0000" stroke-width="1.15"/>
<rect x="191.24" y="337.45" width="4.3" height="4.3" fill="#fff" stroke="#ff0000" stroke-width="1.15"/>
<rect x="212.95" y="336.64" width="4.3" height="4.3" fill="#fff" stroke="#ff0000" stroke-width="1.15"/>
<rect x="234.67" y="335.82" width="4.3" height="4.3" fill="#fff" stroke="#ff0000" stroke-width="1.15"/>
<rect x="256.39" y="336.64" width="4.3" height="4.3" fill="#fff" stroke="#ff0000" stroke-width="1.15"/>
<polyline points="41.36,426.12 63.08,398.37 84.8,380.41 106.51,354.3 128.23,308.58 149.95,308.58 171.67,290.63 193.39,290.63 215.1,290.63 236.82,290.63 258.54,308.58" fill="none" stroke="#4a92da" stroke-width="1.15" stroke-linejoin="round"/>
<path d="M39.26 424.02L43.46 428.23M39.26 428.23L43.46 424.02" stroke="#2a78cc" stroke-width="1.25" fill="none"/>
<path d="M60.98 396.27L65.18 400.47M60.98 400.47L65.18 396.27" stroke="#2a78cc" stroke-width="1.25" fill="none"/>
<path d="M82.7 378.31L86.9 382.51M82.7 382.51L86.9 378.31" stroke="#2a78cc" stroke-width="1.25" fill="none"/>
<path d="M104.41 352.19L108.61 356.4M104.41 356.4L108.61 352.19" stroke="#2a78cc" stroke-width="1.25" fill="none"/>
<path d="M126.13 306.48L130.33 310.68M126.13 310.68L130.33 306.48" stroke="#2a78cc" stroke-width="1.25" fill="none"/>
<path d="M147.85 306.48L152.05 310.68M147.85 310.68L152.05 306.48" stroke="#2a78cc" stroke-width="1.25" fill="none"/>
<path d="M169.57 288.53L173.77 292.73M169.57 292.73L173.77 288.53" stroke="#2a78cc" stroke-width="1.25" fill="none"/>
<path d="M191.29 288.53L195.49 292.73M191.29 292.73L195.49 288.53" stroke="#2a78cc" stroke-width="1.25" fill="none"/>
<path d="M213 288.53L217.2 292.73M213 292.73L217.2 288.53" stroke="#2a78cc" stroke-width="1.25" fill="none"/>
<path d="M234.72 288.53L238.92 292.73M234.72 292.73L238.92 288.53" stroke="#2a78cc" stroke-width="1.25" fill="none"/>
<path d="M256.44 306.48L260.64 310.68M256.44 310.68L260.64 306.48" stroke="#2a78cc" stroke-width="1.25" fill="none"/>
<rect x="6.4" y="241.4" width="263.3" height="31.6" fill="#fff" stroke="#e4e4e4" stroke-width="1"/>
<line x1="10.2" y1="246.7" x2="30.2" y2="246.7" stroke="#000000" stroke-width="0.98"/>
<circle cx="20.2" cy="246.7" r="2.6" fill="#000000"/>
<line x1="98" y1="246.7" x2="118" y2="246.7" stroke="#000000" stroke-width="0.98"/>
<path d="M108 244L110.6 248.7L105.4 248.7Z" fill="#000000"/>
<line x1="186.2" y1="246.7" x2="206.2" y2="246.7" stroke="#000000" stroke-width="0.98"/>
<rect x="193.6" y="244.1" width="5.2" height="5.2" fill="#000000"/>
<line x1="10.2" y1="257.3" x2="30.2" y2="257.3" stroke="#ff0000" stroke-width="0.98" stroke-dasharray="1.2 0.85"/>
<circle cx="20.2" cy="257.3" r="2.05" fill="#fff" stroke="#ff0000" stroke-width="1.1"/>
<line x1="98" y1="257.3" x2="118" y2="257.3" stroke="#ff0000" stroke-width="0.98" stroke-dasharray="1.2 0.85"/>
<path d="M108 254.95L110.23 258.94L105.77 258.94Z" fill="#fff" stroke="#ff0000" stroke-width="1.15" stroke-linejoin="round"/>
<line x1="186.2" y1="257.3" x2="206.2" y2="257.3" stroke="#ff0000" stroke-width="0.98" stroke-dasharray="1.2 0.85"/>
<rect x="194.05" y="255.15" width="4.3" height="4.3" fill="#fff" stroke="#ff0000" stroke-width="1.15"/>
<line x1="10.2" y1="267.6" x2="30.2" y2="267.6" stroke="#4a92da" stroke-width="0.98"/>
<path d="M18.1 265.5L22.3 269.7M18.1 269.7L22.3 265.5" stroke="#2a78cc" stroke-width="1.25" fill="none"/>
<line x1="309" y1="421.35" x2="544.5" y2="421.35" stroke="#c8c8c8" stroke-width="1"/>
<line x1="309" y1="399.8" x2="544.5" y2="399.8" stroke="#c8c8c8" stroke-width="1"/>
<line x1="309" y1="378.25" x2="544.5" y2="378.25" stroke="#c8c8c8" stroke-width="1"/>
<line x1="309" y1="356.7" x2="544.5" y2="356.7" stroke="#c8c8c8" stroke-width="1"/>
<line x1="309" y1="335.15" x2="544.5" y2="335.15" stroke="#c8c8c8" stroke-width="1"/>
<line x1="309" y1="313.6" x2="544.5" y2="313.6" stroke="#c8c8c8" stroke-width="1"/>
<line x1="309" y1="292.05" x2="544.5" y2="292.05" stroke="#c8c8c8" stroke-width="1"/>
<line x1="309" y1="270.5" x2="544.5" y2="270.5" stroke="#c8c8c8" stroke-width="1"/>
<rect x="309" y="270.5" width="235.5" height="172.4" fill="none" stroke="#cbcbcb" stroke-width="1"/>
<polyline points="319.7,365.32 341.11,375.02 362.52,380.4 383.93,383.64 405.34,383.64 426.75,384.71 448.16,383.64 469.57,379.33 490.98,371.78 512.39,361.01 533.8,350.24" fill="none" stroke="#000000" stroke-width="1.15" stroke-linejoin="round"/>
<circle cx="319.7" cy="365.32" r="2.6" fill="#000000"/>
<circle cx="341.11" cy="375.02" r="2.6" fill="#000000"/>
<circle cx="362.52" cy="380.4" r="2.6" fill="#000000"/>
<circle cx="383.93" cy="383.64" r="2.6" fill="#000000"/>
<circle cx="405.34" cy="383.64" r="2.6" fill="#000000"/>
<circle cx="426.75" cy="384.71" r="2.6" fill="#000000"/>
<circle cx="448.16" cy="383.64" r="2.6" fill="#000000"/>
<circle cx="469.57" cy="379.33" r="2.6" fill="#000000"/>
<circle cx="490.98" cy="371.78" r="2.6" fill="#000000"/>
<circle cx="512.39" cy="361.01" r="2.6" fill="#000000"/>
<circle cx="533.8" cy="350.24" r="2.6" fill="#000000"/>
<polyline points="319.7,316.83 341.11,322.22 362.52,318.99 383.93,322.22 405.34,324.38 426.75,323.3 448.16,325.45 469.57,318.99 490.98,317.91 512.39,317.91 533.8,317.91" fill="none" stroke="#000000" stroke-width="1.15" stroke-linejoin="round"/>
<path d="M319.7 314.13L322.3 318.83L317.1 318.83Z" fill="#000000"/>
<path d="M341.11 319.52L343.71 324.22L338.51 324.22Z" fill="#000000"/>
<path d="M362.52 316.29L365.12 320.99L359.92 320.99Z" fill="#000000"/>
<path d="M383.93 319.52L386.53 324.22L381.33 324.22Z" fill="#000000"/>
<path d="M405.34 321.68L407.94 326.38L402.74 326.38Z" fill="#000000"/>
<path d="M426.75 320.6L429.35 325.3L424.15 325.3Z" fill="#000000"/>
<path d="M448.16 322.75L450.76 327.45L445.56 327.45Z" fill="#000000"/>
<path d="M469.57 316.29L472.17 320.99L466.97 320.99Z" fill="#000000"/>
<path d="M490.98 315.21L493.58 319.91L488.38 319.91Z" fill="#000000"/>
<path d="M512.39 315.21L514.99 319.91L509.79 319.91Z" fill="#000000"/>
<path d="M533.8 315.21L536.4 319.91L531.2 319.91Z" fill="#000000"/>
<polyline points="319.7,352.39 341.11,363.16 362.52,376.09 383.93,382.56 405.34,383.64 426.75,383.64 448.16,380.4 469.57,372.86 490.98,363.16 512.39,352.39 533.8,339.46" fill="none" stroke="#000000" stroke-width="1.15" stroke-dasharray="1.3 0.8" stroke-linejoin="round"/>
<rect x="317.1" y="349.79" width="5.2" height="5.2" fill="#000000"/>
<rect x="338.51" y="360.56" width="5.2" height="5.2" fill="#000000"/>
<rect x="359.92" y="373.49" width="5.2" height="5.2" fill="#000000"/>
<rect x="381.33" y="379.96" width="5.2" height="5.2" fill="#000000"/>
<rect x="402.74" y="381.04" width="5.2" height="5.2" fill="#000000"/>
<rect x="424.15" y="381.04" width="5.2" height="5.2" fill="#000000"/>
<rect x="445.56" y="377.8" width="5.2" height="5.2" fill="#000000"/>
<rect x="466.97" y="370.26" width="5.2" height="5.2" fill="#000000"/>
<rect x="488.38" y="360.56" width="5.2" height="5.2" fill="#000000"/>
<rect x="509.79" y="349.79" width="5.2" height="5.2" fill="#000000"/>
<rect x="531.2" y="336.86" width="5.2" height="5.2" fill="#000000"/>
<polyline points="319.7,409.5 341.11,410.57 362.52,401.95 383.93,386.87 405.34,394.41 426.75,397.64 448.16,383.64 469.57,410.57 490.98,429.97 512.39,424.58 533.8,399.8" fill="none" stroke="#ff0000" stroke-width="1.15" stroke-dasharray="1.2 0.85" stroke-linejoin="round"/>
<circle cx="319.7" cy="409.5" r="2.05" fill="#fff" stroke="#ff0000" stroke-width="1.1"/>
<circle cx="341.11" cy="410.57" r="2.05" fill="#fff" stroke="#ff0000" stroke-width="1.1"/>
<circle cx="362.52" cy="401.95" r="2.05" fill="#fff" stroke="#ff0000" stroke-width="1.1"/>
<circle cx="383.93" cy="386.87" r="2.05" fill="#fff" stroke="#ff0000" stroke-width="1.1"/>
<circle cx="405.34" cy="394.41" r="2.05" fill="#fff" stroke="#ff0000" stroke-width="1.1"/>
<circle cx="426.75" cy="397.64" r="2.05" fill="#fff" stroke="#ff0000" stroke-width="1.1"/>
<circle cx="448.16" cy="383.64" r="2.05" fill="#fff" stroke="#ff0000" stroke-width="1.1"/>
<circle cx="469.57" cy="410.57" r="2.05" fill="#fff" stroke="#ff0000" stroke-width="1.1"/>
<circle cx="490.98" cy="429.97" r="2.05" fill="#fff" stroke="#ff0000" stroke-width="1.1"/>
<circle cx="512.39" cy="424.58" r="2.05" fill="#fff" stroke="#ff0000" stroke-width="1.1"/>
<circle cx="533.8" cy="399.8" r="2.05" fill="#fff" stroke="#ff0000" stroke-width="1.1"/>
<polyline points="319.7,286.66 341.11,394.41 362.52,380.4 383.93,366.4 405.34,356.7 426.75,378.25 448.16,321.14 469.57,309.29 490.98,399.8 512.39,285.59 533.8,278.04" fill="none" stroke="#ff0000" stroke-width="1.15" stroke-dasharray="1.2 0.85" stroke-linejoin="round"/>
<path d="M319.7 284.31L321.94 288.31L317.47 288.31Z" fill="#fff" stroke="#ff0000" stroke-width="1.15" stroke-linejoin="round"/>
<path d="M341.11 392.06L343.35 396.06L338.88 396.06Z" fill="#fff" stroke="#ff0000" stroke-width="1.15" stroke-linejoin="round"/>
<path d="M362.52 378.05L364.76 382.05L360.29 382.05Z" fill="#fff" stroke="#ff0000" stroke-width="1.15" stroke-linejoin="round"/>
<path d="M383.93 364.05L386.16 368.04L381.7 368.04Z" fill="#fff" stroke="#ff0000" stroke-width="1.15" stroke-linejoin="round"/>
<path d="M405.34 354.35L407.57 358.34L403.11 358.34Z" fill="#fff" stroke="#ff0000" stroke-width="1.15" stroke-linejoin="round"/>
<path d="M426.75 375.9L428.98 379.89L424.52 379.89Z" fill="#fff" stroke="#ff0000" stroke-width="1.15" stroke-linejoin="round"/>
<path d="M448.16 318.79L450.39 322.79L445.93 322.79Z" fill="#fff" stroke="#ff0000" stroke-width="1.15" stroke-linejoin="round"/>
<path d="M469.57 306.94L471.8 310.93L467.34 310.93Z" fill="#fff" stroke="#ff0000" stroke-width="1.15" stroke-linejoin="round"/>
<path d="M490.98 397.45L493.21 401.44L488.74 401.44Z" fill="#fff" stroke="#ff0000" stroke-width="1.15" stroke-linejoin="round"/>
<path d="M512.39 283.24L514.62 287.23L510.15 287.23Z" fill="#fff" stroke="#ff0000" stroke-width="1.15" stroke-linejoin="round"/>
<path d="M533.8 275.69L536.03 279.69L531.56 279.69Z" fill="#fff" stroke="#ff0000" stroke-width="1.15" stroke-linejoin="round"/>
<polyline points="319.7,345.92 341.11,351.31 362.52,356.7 383.93,359.93 405.34,359.93 426.75,359.93 448.16,358.86 469.57,355.62 490.98,349.16 512.39,342.69 533.8,335.15" fill="none" stroke="#ff0000" stroke-width="1.15" stroke-dasharray="1.2 0.85" stroke-linejoin="round"/>
<rect x="317.55" y="343.77" width="4.3" height="4.3" fill="#fff" stroke="#ff0000" stroke-width="1.15"/>
<rect x="338.96" y="349.16" width="4.3" height="4.3" fill="#fff" stroke="#ff0000" stroke-width="1.15"/>
<rect x="360.37" y="354.55" width="4.3" height="4.3" fill="#fff" stroke="#ff0000" stroke-width="1.15"/>
<rect x="381.78" y="357.78" width="4.3" height="4.3" fill="#fff" stroke="#ff0000" stroke-width="1.15"/>
<rect x="403.19" y="357.78" width="4.3" height="4.3" fill="#fff" stroke="#ff0000" stroke-width="1.15"/>
<rect x="424.6" y="357.78" width="4.3" height="4.3" fill="#fff" stroke="#ff0000" stroke-width="1.15"/>
<rect x="446.01" y="356.71" width="4.3" height="4.3" fill="#fff" stroke="#ff0000" stroke-width="1.15"/>
<rect x="467.42" y="353.47" width="4.3" height="4.3" fill="#fff" stroke="#ff0000" stroke-width="1.15"/>
<rect x="488.83" y="347.01" width="4.3" height="4.3" fill="#fff" stroke="#ff0000" stroke-width="1.15"/>
<rect x="510.24" y="340.54" width="4.3" height="4.3" fill="#fff" stroke="#ff0000" stroke-width="1.15"/>
<rect x="531.65" y="333" width="4.3" height="4.3" fill="#fff" stroke="#ff0000" stroke-width="1.15"/>
<rect x="307.2" y="242.7" width="236.5" height="23.1" fill="#fff" stroke="#e4e4e4" stroke-width="1"/>
<line x1="322.2" y1="248.4" x2="342.2" y2="248.4" stroke="#000000" stroke-width="0.98"/>
<circle cx="332.2" cy="248.4" r="2.6" fill="#000000"/>
<line x1="401" y1="248.4" x2="421" y2="248.4" stroke="#000000" stroke-width="0.98"/>
<path d="M411 245.7L413.6 250.4L408.4 250.4Z" fill="#000000"/>
<line x1="479.6" y1="248.4" x2="499.6" y2="248.4" stroke="#000000" stroke-width="0.98" stroke-dasharray="1.3 0.8"/>
<rect x="487" y="245.8" width="5.2" height="5.2" fill="#000000"/>
<line x1="322.2" y1="259.8" x2="342.2" y2="259.8" stroke="#ff0000" stroke-width="0.98" stroke-dasharray="1.2 0.85"/>
<circle cx="332.2" cy="259.8" r="2.05" fill="#fff" stroke="#ff0000" stroke-width="1.1"/>
<line x1="401" y1="259.8" x2="421" y2="259.8" stroke="#ff0000" stroke-width="0.98" stroke-dasharray="1.2 0.85"/>
<path d="M411 257.45L413.23 261.44L408.77 261.44Z" fill="#fff" stroke="#ff0000" stroke-width="1.15" stroke-linejoin="round"/>
<line x1="479.6" y1="259.8" x2="499.6" y2="259.8" stroke="#ff0000" stroke-width="0.98" stroke-dasharray="1.2 0.85"/>
<rect x="487.45" y="257.65" width="4.3" height="4.3" fill="#fff" stroke="#ff0000" stroke-width="1.15"/>
</g>
<g filter="url(#tf)">
<text x="24.8" y="207.56" font-size="7" text-anchor="end" fill="#262626" stroke="#262626" stroke-width="0.13">0</text>
<text x="24.8" y="180.37" font-size="7" text-anchor="end" fill="#262626" stroke="#262626" stroke-width="0.13">100</text>
<text x="24.8" y="153.19" font-size="7" text-anchor="end" fill="#262626" stroke="#262626" stroke-width="0.13">200</text>
<text x="24.8" y="126" font-size="7" text-anchor="end" fill="#262626" stroke="#262626" stroke-width="0.13">300</text>
<text x="24.8" y="98.82" font-size="7" text-anchor="end" fill="#262626" stroke="#262626" stroke-width="0.13">400</text>
<text x="24.8" y="71.64" font-size="7" text-anchor="end" fill="#262626" stroke="#262626" stroke-width="0.13">500</text>
<text x="24.8" y="44.46" font-size="7" text-anchor="end" fill="#262626" stroke="#262626" stroke-width="0.13">600</text>
<text x="41.23" y="216.16" font-size="7" text-anchor="middle" fill="#262626" stroke="#262626" stroke-width="0.13">8</text>
<text x="62.68" y="216.16" font-size="7" text-anchor="middle" fill="#262626" stroke="#262626" stroke-width="0.13">9</text>
<text x="84.14" y="216.16" font-size="7" text-anchor="middle" fill="#262626" stroke="#262626" stroke-width="0.13">10</text>
<text x="105.59" y="216.16" font-size="7" text-anchor="middle" fill="#262626" stroke="#262626" stroke-width="0.13">11</text>
<text x="127.05" y="216.16" font-size="7" text-anchor="middle" fill="#262626" stroke="#262626" stroke-width="0.13">12</text>
<text x="148.5" y="216.16" font-size="7" text-anchor="middle" fill="#262626" stroke="#262626" stroke-width="0.13">13</text>
<text x="169.95" y="216.16" font-size="7" text-anchor="middle" fill="#262626" stroke="#262626" stroke-width="0.13">14</text>
<text x="191.41" y="216.16" font-size="7" text-anchor="middle" fill="#262626" stroke="#262626" stroke-width="0.13">15</text>
<text x="212.86" y="216.16" font-size="7" text-anchor="middle" fill="#262626" stroke="#262626" stroke-width="0.13">16</text>
<text x="234.32" y="216.16" font-size="7" text-anchor="middle" fill="#262626" stroke="#262626" stroke-width="0.13">17</text>
<text x="255.77" y="216.16" font-size="7" text-anchor="middle" fill="#262626" stroke="#262626" stroke-width="0.13">18</text>
<text x="148.5" y="226.77" font-size="7.8" text-anchor="middle" fill="#262626" stroke="#262626" stroke-width="0.13">Hour of Day</text>
<text x="0" y="0" font-size="7.8" text-anchor="middle" fill="#262626" stroke="#262626" stroke-width="0.13" transform="translate(10.17 123.45) rotate(-90)">Solar Radiation (W/m2)</text>
<text x="59.3" y="11.59" font-size="7.25" text-anchor="start" fill="#262626" stroke="#262626" stroke-width="0.13">Scenario 1</text>
<text x="137.8" y="11.59" font-size="7.25" text-anchor="start" fill="#262626" stroke="#262626" stroke-width="0.13">Scenario 2</text>
<text x="216.3" y="11.59" font-size="7.25" text-anchor="start" fill="#262626" stroke="#262626" stroke-width="0.13">Scenario 3</text>
<text x="59.3" y="22.39" font-size="7.25" text-anchor="start" fill="#262626" stroke="#262626" stroke-width="0.13">Scenario 7</text>
<text x="137.8" y="22.39" font-size="7.25" text-anchor="start" fill="#262626" stroke="#262626" stroke-width="0.13">Scenario 8</text>
<text x="216.3" y="22.39" font-size="7.25" text-anchor="start" fill="#262626" stroke="#262626" stroke-width="0.13">Scenario 9</text>
<text x="59.3" y="32.99" font-size="7.25" text-anchor="start" fill="#262626" stroke="#262626" stroke-width="0.13">Vertical surface</text>
<text x="303" y="206.56" font-size="7" text-anchor="end" fill="#262626" stroke="#262626" stroke-width="0.13">0</text>
<text x="303" y="189.94" font-size="7" text-anchor="end" fill="#262626" stroke="#262626" stroke-width="0.13">10</text>
<text x="303" y="173.34" font-size="7" text-anchor="end" fill="#262626" stroke="#262626" stroke-width="0.13">20</text>
<text x="303" y="156.73" font-size="7" text-anchor="end" fill="#262626" stroke="#262626" stroke-width="0.13">30</text>
<text x="303" y="140.12" font-size="7" text-anchor="end" fill="#262626" stroke="#262626" stroke-width="0.13">40</text>
<text x="303" y="123.5" font-size="7" text-anchor="end" fill="#262626" stroke="#262626" stroke-width="0.13">50</text>
<text x="303" y="106.9" font-size="7" text-anchor="end" fill="#262626" stroke="#262626" stroke-width="0.13">60</text>
<text x="303" y="90.29" font-size="7" text-anchor="end" fill="#262626" stroke="#262626" stroke-width="0.13">70</text>
<text x="303" y="73.68" font-size="7" text-anchor="end" fill="#262626" stroke="#262626" stroke-width="0.13">80</text>
<text x="303" y="57.06" font-size="7" text-anchor="end" fill="#262626" stroke="#262626" stroke-width="0.13">90</text>
<text x="303" y="40.46" font-size="7" text-anchor="end" fill="#262626" stroke="#262626" stroke-width="0.13">100</text>
<text x="319.91" y="214.96" font-size="7" text-anchor="middle" fill="#262626" stroke="#262626" stroke-width="0.13">8</text>
<text x="341.33" y="214.96" font-size="7" text-anchor="middle" fill="#262626" stroke="#262626" stroke-width="0.13">9</text>
<text x="362.75" y="214.96" font-size="7" text-anchor="middle" fill="#262626" stroke="#262626" stroke-width="0.13">10</text>
<text x="384.16" y="214.96" font-size="7" text-anchor="middle" fill="#262626" stroke="#262626" stroke-width="0.13">11</text>
<text x="405.58" y="214.96" font-size="7" text-anchor="middle" fill="#262626" stroke="#262626" stroke-width="0.13">12</text>
<text x="427" y="214.96" font-size="7" text-anchor="middle" fill="#262626" stroke="#262626" stroke-width="0.13">13</text>
<text x="448.42" y="214.96" font-size="7" text-anchor="middle" fill="#262626" stroke="#262626" stroke-width="0.13">14</text>
<text x="469.84" y="214.96" font-size="7" text-anchor="middle" fill="#262626" stroke="#262626" stroke-width="0.13">15</text>
<text x="491.25" y="214.96" font-size="7" text-anchor="middle" fill="#262626" stroke="#262626" stroke-width="0.13">16</text>
<text x="512.67" y="214.96" font-size="7" text-anchor="middle" fill="#262626" stroke="#262626" stroke-width="0.13">17</text>
<text x="534.09" y="214.96" font-size="7" text-anchor="middle" fill="#262626" stroke="#262626" stroke-width="0.13">18</text>
<text x="427" y="226.37" font-size="7.8" text-anchor="middle" fill="#262626" stroke="#262626" stroke-width="0.13">Hour of Day</text>
<text x="0" y="0" font-size="7.8" text-anchor="middle" fill="#262626" stroke="#262626" stroke-width="0.13" transform="translate(288.87 120.25) rotate(-90)">sDA 300/50 %</text>
<text x="345" y="13.29" font-size="7.25" text-anchor="start" fill="#262626" stroke="#262626" stroke-width="0.13">Scenario 1</text>
<text x="423.8" y="13.29" font-size="7.25" text-anchor="start" fill="#262626" stroke="#262626" stroke-width="0.13">Scenario 2</text>
<text x="502.6" y="13.29" font-size="7.25" text-anchor="start" fill="#262626" stroke="#262626" stroke-width="0.13">Scenario 3</text>
<text x="345" y="28.89" font-size="7.25" text-anchor="start" fill="#262626" stroke="#262626" stroke-width="0.13">Scenario 7</text>
<text x="423.8" y="28.89" font-size="7.25" text-anchor="start" fill="#262626" stroke="#262626" stroke-width="0.13">Scenario 8</text>
<text x="502.6" y="28.89" font-size="7.25" text-anchor="start" fill="#262626" stroke="#262626" stroke-width="0.13">Scenario 9</text>
<text x="24" y="445" font-size="7" text-anchor="end" fill="#262626" stroke="#262626" stroke-width="0.13">24</text>
<text x="24" y="428.68" font-size="7" text-anchor="end" fill="#262626" stroke="#262626" stroke-width="0.13">25</text>
<text x="24" y="412.36" font-size="7" text-anchor="end" fill="#262626" stroke="#262626" stroke-width="0.13">26</text>
<text x="24" y="396.03" font-size="7" text-anchor="end" fill="#262626" stroke="#262626" stroke-width="0.13">27</text>
<text x="24" y="379.7" font-size="7" text-anchor="end" fill="#262626" stroke="#262626" stroke-width="0.13">28</text>
<text x="24" y="363.38" font-size="7" text-anchor="end" fill="#262626" stroke="#262626" stroke-width="0.13">29</text>
<text x="24" y="347.06" font-size="7" text-anchor="end" fill="#262626" stroke="#262626" stroke-width="0.13">30</text>
<text x="24" y="330.73" font-size="7" text-anchor="end" fill="#262626" stroke="#262626" stroke-width="0.13">31</text>
<text x="24" y="314.41" font-size="7" text-anchor="end" fill="#262626" stroke="#262626" stroke-width="0.13">32</text>
<text x="24" y="298.08" font-size="7" text-anchor="end" fill="#262626" stroke="#262626" stroke-width="0.13">33</text>
<text x="24" y="281.75" font-size="7" text-anchor="end" fill="#262626" stroke="#262626" stroke-width="0.13">34</text>
<text x="41.36" y="453.36" font-size="7" text-anchor="middle" fill="#262626" stroke="#262626" stroke-width="0.13">8</text>
<text x="63.08" y="453.36" font-size="7" text-anchor="middle" fill="#262626" stroke="#262626" stroke-width="0.13">9</text>
<text x="84.8" y="453.36" font-size="7" text-anchor="middle" fill="#262626" stroke="#262626" stroke-width="0.13">10</text>
<text x="106.51" y="453.36" font-size="7" text-anchor="middle" fill="#262626" stroke="#262626" stroke-width="0.13">11</text>
<text x="128.23" y="453.36" font-size="7" text-anchor="middle" fill="#262626" stroke="#262626" stroke-width="0.13">12</text>
<text x="149.95" y="453.36" font-size="7" text-anchor="middle" fill="#262626" stroke="#262626" stroke-width="0.13">13</text>
<text x="171.67" y="453.36" font-size="7" text-anchor="middle" fill="#262626" stroke="#262626" stroke-width="0.13">14</text>
<text x="193.39" y="453.36" font-size="7" text-anchor="middle" fill="#262626" stroke="#262626" stroke-width="0.13">15</text>
<text x="215.1" y="453.36" font-size="7" text-anchor="middle" fill="#262626" stroke="#262626" stroke-width="0.13">16</text>
<text x="236.82" y="453.36" font-size="7" text-anchor="middle" fill="#262626" stroke="#262626" stroke-width="0.13">17</text>
<text x="258.54" y="453.36" font-size="7" text-anchor="middle" fill="#262626" stroke="#262626" stroke-width="0.13">18</text>
<text x="149.95" y="464.57" font-size="7.8" text-anchor="middle" fill="#262626" stroke="#262626" stroke-width="0.13">Hour of Day</text>
<text x="0" y="0" font-size="7.8" text-anchor="middle" fill="#262626" stroke="#262626" stroke-width="0.13" transform="translate(13.87 360.82) rotate(-90)">Indoor Temperature (˚C)</text>
<text x="32.5" y="248.69" font-size="7.25" text-anchor="start" fill="#262626" stroke="#262626" stroke-width="0.13">Scenario 1</text>
<text x="120.3" y="248.69" font-size="7.25" text-anchor="start" fill="#262626" stroke="#262626" stroke-width="0.13">Scenario 2</text>
<text x="208.5" y="248.69" font-size="7.25" text-anchor="start" fill="#262626" stroke="#262626" stroke-width="0.13">Scenario 3</text>
<text x="32.5" y="259.29" font-size="7.25" text-anchor="start" fill="#262626" stroke="#262626" stroke-width="0.13">Scenario 7</text>
<text x="120.3" y="259.29" font-size="7.25" text-anchor="start" fill="#262626" stroke="#262626" stroke-width="0.13">Scenario 8</text>
<text x="208.5" y="259.29" font-size="7.25" text-anchor="start" fill="#262626" stroke="#262626" stroke-width="0.13">Scenario 9</text>
<text x="32.5" y="269.59" font-size="7.25" text-anchor="start" fill="#262626" stroke="#262626" stroke-width="0.13">Outdoor Temperature</text>
<text x="303" y="445.45" font-size="7" text-anchor="end" fill="#262626" stroke="#262626" stroke-width="0.13">0</text>
<text x="303" y="423.9" font-size="7" text-anchor="end" fill="#262626" stroke="#262626" stroke-width="0.13">20</text>
<text x="303" y="402.35" font-size="7" text-anchor="end" fill="#262626" stroke="#262626" stroke-width="0.13">40</text>
<text x="303" y="380.81" font-size="7" text-anchor="end" fill="#262626" stroke="#262626" stroke-width="0.13">60</text>
<text x="303" y="359.25" font-size="7" text-anchor="end" fill="#262626" stroke="#262626" stroke-width="0.13">80</text>
<text x="303" y="337.7" font-size="7" text-anchor="end" fill="#262626" stroke="#262626" stroke-width="0.13">100</text>
<text x="303" y="316.16" font-size="7" text-anchor="end" fill="#262626" stroke="#262626" stroke-width="0.13">120</text>
<text x="303" y="294.61" font-size="7" text-anchor="end" fill="#262626" stroke="#262626" stroke-width="0.13">140</text>
<text x="303" y="273.06" font-size="7" text-anchor="end" fill="#262626" stroke="#262626" stroke-width="0.13">160</text>
<text x="319.7" y="454.56" font-size="7" text-anchor="middle" fill="#262626" stroke="#262626" stroke-width="0.13">8</text>
<text x="341.11" y="454.56" font-size="7" text-anchor="middle" fill="#262626" stroke="#262626" stroke-width="0.13">9</text>
<text x="362.52" y="454.56" font-size="7" text-anchor="middle" fill="#262626" stroke="#262626" stroke-width="0.13">10</text>
<text x="383.93" y="454.56" font-size="7" text-anchor="middle" fill="#262626" stroke="#262626" stroke-width="0.13">11</text>
<text x="405.34" y="454.56" font-size="7" text-anchor="middle" fill="#262626" stroke="#262626" stroke-width="0.13">12</text>
<text x="426.75" y="454.56" font-size="7" text-anchor="middle" fill="#262626" stroke="#262626" stroke-width="0.13">13</text>
<text x="448.16" y="454.56" font-size="7" text-anchor="middle" fill="#262626" stroke="#262626" stroke-width="0.13">14</text>
<text x="469.57" y="454.56" font-size="7" text-anchor="middle" fill="#262626" stroke="#262626" stroke-width="0.13">15</text>
<text x="490.98" y="454.56" font-size="7" text-anchor="middle" fill="#262626" stroke="#262626" stroke-width="0.13">16</text>
<text x="512.39" y="454.56" font-size="7" text-anchor="middle" fill="#262626" stroke="#262626" stroke-width="0.13">17</text>
<text x="533.8" y="454.56" font-size="7" text-anchor="middle" fill="#262626" stroke="#262626" stroke-width="0.13">18</text>
<text x="426.75" y="465.27" font-size="7.8" text-anchor="middle" fill="#262626" stroke="#262626" stroke-width="0.13">Hour of Day</text>
<text x="0" y="0" font-size="7.8" text-anchor="middle" fill="#262626" stroke="#262626" stroke-width="0.13" transform="translate(289.17 356.7) rotate(-90)">Angle of incidence (˚)</text>
<text x="344.5" y="250.39" font-size="7.25" text-anchor="start" fill="#262626" stroke="#262626" stroke-width="0.13">Scenario 1</text>
<text x="423.3" y="250.39" font-size="7.25" text-anchor="start" fill="#262626" stroke="#262626" stroke-width="0.13">Scenario 2</text>
<text x="501.9" y="250.39" font-size="7.25" text-anchor="start" fill="#262626" stroke="#262626" stroke-width="0.13">Scenario 3</text>
<text x="344.5" y="261.79" font-size="7.25" text-anchor="start" fill="#262626" stroke="#262626" stroke-width="0.13">Scenario 7</text>
<text x="423.3" y="261.79" font-size="7.25" text-anchor="start" fill="#262626" stroke="#262626" stroke-width="0.13">Scenario 8</text>
<text x="501.9" y="261.79" font-size="7.25" text-anchor="start" fill="#262626" stroke="#262626" stroke-width="0.13">Scenario 9</text>
</g>
</svg>
</div>
</body></html>
